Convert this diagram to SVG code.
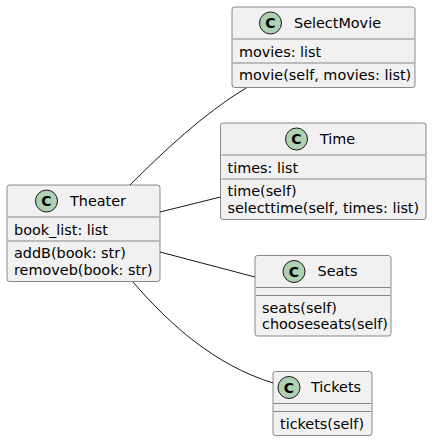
<svg xmlns="http://www.w3.org/2000/svg" width="432" height="441" viewBox="0 0 432 441">
<style>
.box{fill:#F1F1F1;stroke:#181818;stroke-width:0.5}
.sep{stroke:#181818;stroke-width:0.5}
.ci{fill:#ADD1B2;stroke:#181818;stroke-width:1}
.cg{font-family:"DejaVu Sans",sans-serif;font-size:14px;font-weight:bold;fill:#000;text-anchor:middle}
.t{font-family:"DejaVu Sans",sans-serif;font-size:14.4px;fill:#000}
.conn{fill:none;stroke:#181818;stroke-width:1}
</style>
<rect width="432" height="441" fill="#FFFFFF"/>
<g id="connectors">
<path class="conn" d="M130,185 C163,152 203,114 246,88"/>
<path class="conn" d="M160,212 L220.5,197"/>
<path class="conn" d="M160,252 L255,277"/>
<path class="conn" d="M133,282 C170,325 215,365 273,383"/>
</g>
<g id="SelectMovie">
<rect class="box" x="232" y="7" width="183" height="80.5" rx="2.5" ry="2.5"/>
<circle class="ci" cx="270.5" cy="23" r="11"/>
<text class="cg" x="270.5" y="28">C</text>
<text class="t" x="294" y="27.85">SelectMovie</text>
<line class="sep" x1="233" y1="39" x2="414" y2="39"/>
<text class="t" x="239" y="57">movies: list</text>
<line class="sep" x1="233" y1="63" x2="414" y2="63"/>
<text class="t" x="239" y="80.1">movie(self, movies: list)</text>
</g>
<g id="Time">
<rect class="box" x="220.5" y="123" width="205.5" height="96.5" rx="2.5" ry="2.5"/>
<circle class="ci" cx="296.5" cy="139" r="11"/>
<text class="cg" x="296.5" y="144">C</text>
<text class="t" x="320" y="143.85">Time</text>
<line class="sep" x1="221.5" y1="155" x2="425" y2="155"/>
<text class="t" x="227.5" y="173">times: list</text>
<line class="sep" x1="221.5" y1="179" x2="425" y2="179"/>
<text class="t" x="227.5" y="196.1">time(self)</text>
<text class="t" x="227.5" y="212.8">selecttime(self, times: list)</text>
</g>
<g id="Theater">
<rect class="box" x="7" y="185" width="153" height="96.5" rx="2.5" ry="2.5"/>
<circle class="ci" cx="46.5" cy="201" r="11"/>
<text class="cg" x="46.5" y="206">C</text>
<text class="t" x="70" y="205.85">Theater</text>
<line class="sep" x1="8" y1="217" x2="159" y2="217"/>
<text class="t" x="14" y="235">book_list: list</text>
<line class="sep" x1="8" y1="241" x2="159" y2="241"/>
<text class="t" x="14" y="258.1">addB(book: str)</text>
<text class="t" x="14" y="274.8">removeb(book: str)</text>
</g>
<g id="Seats">
<rect class="box" x="255" y="255.5" width="136" height="80.5" rx="2.5" ry="2.5"/>
<circle class="ci" cx="294" cy="271.5" r="11"/>
<text class="cg" x="294" y="276.5">C</text>
<text class="t" x="317.5" y="276.35">Seats</text>
<line class="sep" x1="256" y1="287.5" x2="390" y2="287.5"/>
<line class="sep" x1="256" y1="295.5" x2="390" y2="295.5"/>
<text class="t" x="262" y="312.6">seats(self)</text>
<text class="t" x="262" y="329.3">chooseseats(self)</text>
</g>
<g id="Tickets">
<rect class="box" x="273" y="371.5" width="99" height="64" rx="2.5" ry="2.5"/>
<circle class="ci" cx="289" cy="387.5" r="11"/>
<text class="cg" x="289" y="392.5">C</text>
<text class="t" x="311" y="392.35">Tickets</text>
<line class="sep" x1="274" y1="403.5" x2="371" y2="403.5"/>
<line class="sep" x1="274" y1="411.5" x2="371" y2="411.5"/>
<text class="t" x="280" y="428.6">tickets(self)</text>
</g>
</svg>
